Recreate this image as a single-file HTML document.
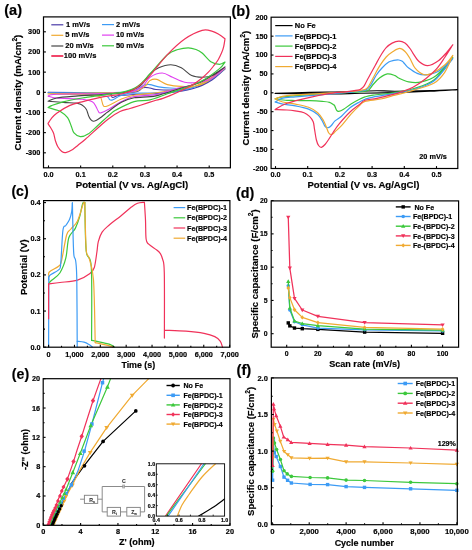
<!DOCTYPE html><html><head><meta charset="utf-8"><style>html,body{margin:0;padding:0;background:#fff;}svg{display:block;will-change:transform;}text{font-family:"Liberation Sans", sans-serif;fill:#000;stroke:#000;stroke-width:0.18px;}</style></head><body>
<svg width="472" height="550" viewBox="0 0 472 550">
<text x="0" y="0" font-size="14" font-weight="bold" transform="translate(4.25,15.32) scale(1.04,1)">(a)</text>
<path d="M48.1,92.3 C56.08,92.37 81.67,92.73 96,92.7 C110.33,92.67 126.27,92.95 134.1,92.1 C141.93,91.25 140.35,88.28 143,87.6 C145.65,86.92 147.83,87.68 150,88 C152.17,88.32 151.83,89.17 156,89.5 C160.17,89.83 168.5,90.25 175,90 C181.5,89.75 188.83,89.67 195,88 C201.17,86.33 207,83.17 212,80 C217,76.83 222.83,70.83 225,69 C222.83,70.67 217,75.83 212,79 C207,82.17 201.17,85.83 195,88 C188.83,90.17 181.5,91.08 175,92 C168.5,92.92 164.93,92.95 156,93.5 C147.07,94.05 128.43,94.68 121.4,95.3 C114.37,95.92 115.38,96.88 113.8,97.2 C112.22,97.52 112.45,97.73 111.9,97.2 C111.35,96.67 112.48,94.67 110.5,94 C108.52,93.33 110.4,93.48 100,93.2 C89.6,92.92 56.75,92.45 48.1,92.3" fill="none" stroke="#4a3aa8" stroke-width="1.1" stroke-linejoin="round" stroke-linecap="round"/>
<path d="M48.1,92.8 C55.08,92.77 76.35,92.77 90,92.6 C103.65,92.43 120.95,93.05 130,91.8 C139.05,90.55 140.97,86.3 144.3,85.1 C147.63,83.9 147.6,84.3 150,84.6 C152.4,84.9 155.37,86.33 158.7,86.9 C162.03,87.47 164.78,87.82 170,88 C175.22,88.18 183.33,89.33 190,88 C196.67,86.67 204.17,83.25 210,80 C215.83,76.75 222.5,70.42 225,68.5 C222.83,70.08 217,74.92 212,78 C207,81.08 201.17,84.75 195,87 C188.83,89.25 181.5,90.53 175,91.5 C168.5,92.47 163.5,92.5 156,92.8 C148.5,93.1 135.07,93.07 130,93.3 C124.93,93.53 127.32,93.77 125.6,94.2 C123.88,94.63 121.4,95.2 119.7,95.9 C118,96.6 116.68,97.7 115.4,98.4 C114.12,99.1 112.98,99.9 112,100.1 C111.02,100.3 110.1,100.02 109.5,99.6 C108.9,99.18 109.15,98.2 108.4,97.6 C107.65,97 108.07,96.43 105,96 C101.93,95.57 95.83,95.28 90,95 C84.17,94.72 76.98,94.67 70,94.3 C63.02,93.93 51.75,93.05 48.1,92.8" fill="none" stroke="#3c9bf5" stroke-width="1.1" stroke-linejoin="round" stroke-linecap="round"/>
<path d="M48.1,93.9 C57.42,93.73 89.68,93.3 104,92.9 C118.32,92.5 127.17,92.65 134,91.5 C140.83,90.35 142.33,87.83 145,86 C147.67,84.17 148.02,81.6 150,80.5 C151.98,79.4 154,78.72 156.9,79.4 C159.8,80.08 163.33,83.43 167.4,84.6 C171.47,85.77 175.52,86.45 181.3,86.4 C187.08,86.35 194.82,87.32 202.1,84.3 C209.38,81.28 221.18,70.97 225,68.3 C222.83,69.75 217,74.05 212,77 C207,79.95 201.17,83.83 195,86 C188.83,88.17 181.5,88.88 175,90 C168.5,91.12 162.82,91.82 156,92.7 C149.18,93.58 139.87,94.23 134.1,95.3 C128.33,96.37 125.63,97.42 121.4,99.1 C117.17,100.78 111.67,104.23 108.7,105.4 C105.73,106.57 104.87,107.27 103.6,106.1 C102.33,104.93 101.95,100.05 101.1,98.4 C100.25,96.75 101.18,96.8 98.5,96.2 C95.82,95.6 93.4,95.18 85,94.8 C76.6,94.42 54.25,94.05 48.1,93.9" fill="none" stroke="#f0aa32" stroke-width="1.1" stroke-linejoin="round" stroke-linecap="round"/>
<path d="M48.1,96.1 C49.53,95.78 47.38,94.63 56.7,94.2 C66.02,93.77 91.78,93.87 104,93.5 C116.22,93.13 123.67,93.08 130,92 C136.33,90.92 138.67,89.45 142,87 C145.33,84.55 146.63,79.63 150,77.3 C153.37,74.97 158.43,73 162.2,73 C165.97,73 168.85,75.77 172.6,77.3 C176.35,78.83 180.65,81.33 184.7,82.2 C188.75,83.07 192.55,83.02 196.9,82.5 C201.25,81.98 206.12,81.55 210.8,79.1 C215.48,76.65 222.63,69.68 225,67.8 C222.83,69.17 217,73.3 212,76 C207,78.7 201.17,81.83 195,84 C188.83,86.17 181.5,87.23 175,89 C168.5,90.77 162.82,93.35 156,94.6 C149.18,95.85 139.87,95.33 134.1,96.5 C128.33,97.67 125.63,99.48 121.4,101.6 C117.17,103.72 112.2,107.3 108.7,109.2 C105.2,111.1 102.2,112.78 100.4,113 C98.6,113.22 98.62,111.52 97.9,110.5 C97.18,109.48 97.03,108.35 96.1,106.9 C95.17,105.45 94.63,103.07 92.3,101.8 C89.97,100.53 88.03,99.93 82.1,99.3 C76.17,98.67 62.37,98.53 56.7,98 C51.03,97.47 49.53,96.42 48.1,96.1" fill="none" stroke="#e040f0" stroke-width="1.1" stroke-linejoin="round" stroke-linecap="round"/>
<path d="M48.1,101.2 C49.53,100.67 52.08,98.85 56.7,98 C61.32,97.15 67.92,96.73 75.8,96.1 C83.68,95.47 95.97,94.82 104,94.2 C112.03,93.58 118,93.77 124,92.4 C130,91.03 135.67,89.08 140,86 C144.33,82.92 146.88,76.93 150,73.9 C153.12,70.87 155.23,69.32 158.7,67.8 C162.17,66.28 167.03,64.8 170.8,64.8 C174.57,64.8 177.82,66 181.3,67.8 C184.78,69.6 188.23,74.02 191.7,75.6 C195.17,77.18 198.63,77.3 202.1,77.3 C205.57,77.3 208.68,77.33 212.5,75.6 C216.32,73.87 222.92,68.35 225,66.9 C223.33,68 219.17,70.9 215,73.5 C210.83,76.1 205.83,80 200,82.5 C194.17,85 187.33,86.27 180,88.5 C172.67,90.73 163.65,94.35 156,95.9 C148.35,97.45 139.87,96.75 134.1,97.8 C128.33,98.85 125.42,100.13 121.4,102.2 C117.38,104.27 112.67,108.28 110,110.2 C107.33,112.12 107.02,112.43 105.4,113.7 C103.78,114.97 101.78,116.7 100.3,117.8 C98.82,118.9 97.67,119.72 96.5,120.3 C95.33,120.88 94.25,121.4 93.3,121.3 C92.35,121.2 91.53,120.5 90.8,119.7 C90.07,118.9 89.43,117.67 88.9,116.5 C88.37,115.33 88.02,113.87 87.6,112.7 C87.18,111.53 87.03,110.55 86.4,109.5 C85.77,108.45 84.87,107.3 83.8,106.4 C82.73,105.5 81.33,104.65 80,104.1 C78.67,103.55 78.62,103.38 75.8,103.1 C72.98,102.82 67.72,102.72 63.1,102.4 C58.48,102.08 50.6,101.4 48.1,101.2" fill="none" stroke="#454545" stroke-width="1.1" stroke-linejoin="round" stroke-linecap="round"/>
<path d="M48.1,107.5 C48.68,107.18 49.1,106.55 51.6,105.6 C54.1,104.65 58.02,103.07 63.1,101.8 C68.18,100.53 75.28,99.17 82.1,98 C88.92,96.83 97.02,95.83 104,94.8 C110.98,93.77 118.33,93.27 124,91.8 C129.67,90.33 133.67,88.98 138,86 C142.33,83.02 145.1,79.12 150,73.9 C154.9,68.68 162.73,58.77 167.4,54.7 C172.07,50.63 174.53,50.65 178,49.5 C181.47,48.35 185.2,47.8 188.2,47.8 C191.2,47.8 193.68,48.63 196,49.5 C198.32,50.37 199.63,50.97 202.1,53 C204.57,55.03 207.9,59.82 210.8,61.7 C213.7,63.58 217.13,64.25 219.5,64.3 C221.87,64.35 224.08,62.38 225,62 C224.08,63.1 223.32,65.47 219.5,68.6 C215.68,71.73 207.9,77.6 202.1,80.8 C196.3,84 190.48,85.63 184.7,87.8 C178.92,89.97 173.18,91.78 167.4,93.8 C161.62,95.82 155.55,98.6 150,99.9 C144.45,101.2 139.78,99.92 134.1,101.6 C128.42,103.28 119.78,107.97 115.9,110 C112.02,112.03 113.77,111.27 110.8,113.8 C107.83,116.33 101.9,121.82 98.1,125.2 C94.3,128.58 90.97,132.18 88,134.1 C85.03,136.02 82.63,136.9 80.3,136.7 C77.97,136.5 75.48,134.6 74,132.9 C72.52,131.2 72.47,129.05 71.4,126.5 C70.33,123.95 69.5,120.13 67.6,117.6 C65.7,115.07 62.23,112.67 60,111.3 C57.77,109.93 56.18,110.03 54.2,109.4 C52.22,108.77 49.12,107.82 48.1,107.5" fill="none" stroke="#3cc83c" stroke-width="1.2" stroke-linejoin="round" stroke-linecap="round"/>
<path d="M48,123.6 C48.55,122.77 49.85,120.33 51.3,118.6 C52.75,116.87 53.68,115.37 56.7,113.2 C59.72,111.03 65.17,107.5 69.4,105.6 C73.63,103.7 76.33,103.28 82.1,101.8 C87.87,100.32 97.45,98 104,96.7 C110.55,95.4 116.38,95.2 121.4,94 C126.42,92.8 130.28,91.62 134.1,89.5 C137.92,87.38 141.65,83.62 144.3,81.3 C146.95,78.98 146.15,80.03 150,75.6 C153.85,71.17 161.62,60.78 167.4,54.7 C173.18,48.62 178.92,43.15 184.7,39.1 C190.48,35.05 197.47,31.7 202.1,30.4 C206.73,29.1 209.6,30.57 212.5,31.3 C215.4,32.03 217.42,33.55 219.5,34.8 C221.58,36.05 224.08,38.13 225,38.8 C224.78,40.1 224.28,44.22 223.7,46.6 C223.12,48.98 222.42,50.92 221.5,53.1 C220.58,55.28 219.48,57.6 218.2,59.7 C216.92,61.8 215.43,63.62 213.8,65.7 C212.17,67.78 210.4,70.12 208.4,72.2 C206.4,74.28 204.17,76.28 201.8,78.2 C199.43,80.12 196.73,82.07 194.2,83.7 C191.67,85.33 188.97,86.73 186.6,88 C184.23,89.27 182.77,90.03 180,91.3 C177.23,92.57 172.97,94.38 170,95.6 C167.03,96.82 164.53,97.82 162.2,98.6 C159.87,99.38 159.62,99.2 156,100.3 C152.38,101.4 144.83,103.83 140.5,105.2 C136.17,106.57 133.42,107.45 130,108.5 C126.58,109.55 123.62,109.77 120,111.5 C116.38,113.23 111.95,116.18 108.3,118.9 C104.65,121.62 101.92,124.42 98.1,127.8 C94.28,131.18 88.75,136.3 85.4,139.2 C82.05,142.1 80.12,143.5 78,145.2 C75.88,146.9 74.75,148.17 72.7,149.4 C70.65,150.63 67.52,152.25 65.7,152.6 C63.88,152.95 63.08,152.43 61.8,151.5 C60.52,150.57 59.07,148.8 58,147 C56.93,145.2 56.15,143.03 55.4,140.7 C54.65,138.37 54.33,135.23 53.5,133 C52.67,130.77 51.32,128.87 50.4,127.3 C49.48,125.73 48.4,124.22 48,123.6" fill="none" stroke="#f0325a" stroke-width="1.2" stroke-linejoin="round" stroke-linecap="round"/>
<rect x="43.5" y="16.9" width="186.9" height="150.9" fill="none" stroke="#000" stroke-width="1.2"/>
<line x1="43.5" y1="31.79" x2="45.9" y2="31.79" stroke="#000" stroke-width="1.1"/>
<line x1="43.5" y1="51.96" x2="45.9" y2="51.96" stroke="#000" stroke-width="1.1"/>
<line x1="43.5" y1="72.13" x2="45.9" y2="72.13" stroke="#000" stroke-width="1.1"/>
<line x1="43.5" y1="92.3" x2="45.9" y2="92.3" stroke="#000" stroke-width="1.1"/>
<line x1="43.5" y1="112.47" x2="45.9" y2="112.47" stroke="#000" stroke-width="1.1"/>
<line x1="43.5" y1="132.64" x2="45.9" y2="132.64" stroke="#000" stroke-width="1.1"/>
<line x1="43.5" y1="152.81" x2="45.9" y2="152.81" stroke="#000" stroke-width="1.1"/>
<line x1="48.5" y1="167.8" x2="48.5" y2="165.4" stroke="#000" stroke-width="1.1"/>
<line x1="80.64" y1="167.8" x2="80.64" y2="165.4" stroke="#000" stroke-width="1.1"/>
<line x1="112.78" y1="167.8" x2="112.78" y2="165.4" stroke="#000" stroke-width="1.1"/>
<line x1="144.92" y1="167.8" x2="144.92" y2="165.4" stroke="#000" stroke-width="1.1"/>
<line x1="177.06" y1="167.8" x2="177.06" y2="165.4" stroke="#000" stroke-width="1.1"/>
<line x1="209.2" y1="167.8" x2="209.2" y2="165.4" stroke="#000" stroke-width="1.1"/>
<text x="40.3" y="34.19" font-size="7.3" text-anchor="end" font-weight="bold">300</text>
<text x="40.3" y="54.36" font-size="7.3" text-anchor="end" font-weight="bold">200</text>
<text x="40.3" y="74.53" font-size="7.3" text-anchor="end" font-weight="bold">100</text>
<text x="40.3" y="94.7" font-size="7.3" text-anchor="end" font-weight="bold">0</text>
<text x="40.3" y="114.87" font-size="7.3" text-anchor="end" font-weight="bold">-100</text>
<text x="40.3" y="135.04" font-size="7.3" text-anchor="end" font-weight="bold">-200</text>
<text x="40.3" y="155.21" font-size="7.3" text-anchor="end" font-weight="bold">-300</text>
<text x="48.5" y="176.9" font-size="7.3" text-anchor="middle" font-weight="bold">0.0</text>
<text x="80.64" y="176.9" font-size="7.3" text-anchor="middle" font-weight="bold">0.1</text>
<text x="112.78" y="176.9" font-size="7.3" text-anchor="middle" font-weight="bold">0.2</text>
<text x="144.92" y="176.9" font-size="7.3" text-anchor="middle" font-weight="bold">0.3</text>
<text x="177.06" y="176.9" font-size="7.3" text-anchor="middle" font-weight="bold">0.4</text>
<text x="209.2" y="176.9" font-size="7.3" text-anchor="middle" font-weight="bold">0.5</text>
<text x="75.72" y="187.9" font-size="9.63" text-anchor="start" font-weight="bold">Potential (V vs. Ag/AgCl)</text>
<text x="0" y="0" font-size="9.62" text-anchor="middle" font-weight="bold" transform="translate(20.9,92.61) rotate(-90)">Current density (mA/cm<tspan font-size="6.7" dy="-4.2">2</tspan><tspan dy="4.2">)</tspan></text>
<line x1="51.3" y1="24.8" x2="63.3" y2="24.8" stroke="#4a3aa8" stroke-width="1.2"/>
<text x="65.9" y="26.7" font-size="7.5" text-anchor="start" font-weight="bold">1 mV/s</text>
<line x1="102" y1="24.6" x2="114" y2="24.6" stroke="#3c9bf5" stroke-width="1.2"/>
<text x="115.9" y="26.5" font-size="7.5" text-anchor="start" font-weight="bold">2 mV/s</text>
<line x1="51.3" y1="35.3" x2="63.3" y2="35.3" stroke="#f0aa32" stroke-width="1.2"/>
<text x="65.3" y="37.2" font-size="7.5" text-anchor="start" font-weight="bold">5 mV/s</text>
<line x1="102" y1="35.1" x2="114" y2="35.1" stroke="#e040f0" stroke-width="1.2"/>
<text x="115.9" y="37" font-size="7.5" text-anchor="start" font-weight="bold">10 mV/s</text>
<line x1="51.3" y1="46" x2="63.3" y2="46" stroke="#454545" stroke-width="1.2"/>
<text x="65.3" y="47.9" font-size="7.5" text-anchor="start" font-weight="bold">20 mV/s</text>
<line x1="102" y1="45.8" x2="114" y2="45.8" stroke="#3cc83c" stroke-width="1.2"/>
<text x="115.9" y="47.7" font-size="7.5" text-anchor="start" font-weight="bold">50 mV/s</text>
<line x1="51.3" y1="56" x2="63.3" y2="56" stroke="#f0325a" stroke-width="1.8"/>
<text x="63.8" y="57.9" font-size="7.5" text-anchor="start" font-weight="bold">100 mV/s</text>
<text x="0" y="0" font-size="14" font-weight="bold" transform="translate(231.4,16.22) scale(1.04,1)">(b)</text>
<path d="M275.1,93.3 C280.92,93.15 300.02,92.62 310,92.4 C319.98,92.18 326.67,92.18 335,92 C343.33,91.82 353,91.52 360,91.3 C367,91.08 371.17,90.72 377,90.7 C382.83,90.68 386.17,91.22 395,91.2 C403.83,91.18 419.57,90.87 430,90.6 C440.43,90.33 453,89.77 457.6,89.6 C453,89.88 440.43,90.8 430,91.3 C419.57,91.8 406.67,92.27 395,92.6 C383.33,92.93 370,93.08 360,93.3 C350,93.52 343.33,93.83 335,93.9 C326.67,93.97 319.98,93.77 310,93.7 C300.02,93.63 280.92,93.53 275.1,93.5" fill="none" stroke="#000" stroke-width="1.1" stroke-linejoin="round" stroke-linecap="round"/>
<path d="M275.1,99 C276.37,98.65 276.88,97.62 282.7,96.9 C288.52,96.18 301.28,95.35 310,94.7 C318.72,94.05 328.33,93.38 335,93 C341.67,92.62 345.83,92.6 350,92.4 C354.17,92.2 357,92.1 360,91.8 C363,91.5 365.82,91.82 368,90.6 C370.18,89.38 371.18,86.58 373.1,84.5 C375.02,82.42 377.13,79.87 379.5,78.1 C381.87,76.33 384.72,74.32 387.3,73.9 C389.88,73.48 393.2,74.97 395,75.6 C396.8,76.23 395.82,76.65 398.1,77.7 C400.38,78.75 404.82,81.2 408.7,81.9 C412.58,82.6 416.8,82.97 421.4,81.9 C426,80.83 431.07,79.57 436.3,75.5 C441.53,71.43 450.05,60.5 452.8,57.5 C449.7,61.22 440.83,74.58 434.2,79.8 C427.57,85.02 419.53,86.67 413,88.8 C406.47,90.93 401.65,91.53 395,92.6 C388.35,93.67 378.1,94.48 373.1,95.2 C368.1,95.92 367.27,96.23 365,96.9 C362.73,97.57 361.83,98.02 359.5,99.2 C357.17,100.38 353.65,102.32 351,104 C348.35,105.68 345.63,108.07 343.6,109.3 C341.57,110.53 339.95,111.22 338.8,111.4 C337.65,111.58 337.4,111.37 336.7,110.4 C336,109.43 335.18,106.58 334.6,105.6 C334.02,104.62 334.05,105.05 333.2,104.5 C332.35,103.95 331.32,102.82 329.5,102.3 C327.68,101.78 325.55,101.67 322.3,101.4 C319.05,101.13 314.55,100.85 310,100.7 C305.45,100.55 298.83,100.57 295,100.5 C291.17,100.43 290.32,100.55 287,100.3 C283.68,100.05 277.08,99.22 275.1,99" fill="none" stroke="#3cc83c" stroke-width="1.2" stroke-linejoin="round" stroke-linecap="round"/>
<path d="M275.1,102 C276.37,101.35 279.32,98.95 282.7,98.1 C286.08,97.25 290.85,97.32 295.4,96.9 C299.95,96.48 303.4,96.17 310,95.6 C316.6,95.03 328.33,94.07 335,93.5 C341.67,92.93 345.83,92.58 350,92.2 C354.17,91.82 357.2,91.67 360,91.2 C362.8,90.73 365.05,90.35 366.8,89.4 C368.55,88.45 368.9,87.9 370.5,85.5 C372.1,83.1 374.48,77.92 376.4,75 C378.32,72.08 379.95,70.15 382,68 C384.05,65.85 386.73,63.37 388.7,62.1 C390.67,60.83 392.1,60.75 393.8,60.4 C395.5,60.05 397.48,59.85 398.9,60 C400.32,60.15 401.28,60.6 402.3,61.3 C403.32,62 403.93,63.07 405,64.2 C406.07,65.33 406.67,66.57 408.7,68.1 C410.73,69.63 414.37,72.27 417.2,73.4 C420.03,74.53 422.17,75.25 425.7,74.9 C429.23,74.55 433.88,74.02 438.4,71.3 C442.92,68.58 450.4,60.72 452.8,58.6 C449.7,62.3 440.83,75.62 434.2,80.8 C427.57,85.98 419.53,87.62 413,89.7 C406.47,91.78 401.65,92.07 395,93.3 C388.35,94.53 378.1,96.12 373.1,97.1 C368.1,98.08 367.27,98.4 365,99.2 C362.73,100 362,100.48 359.5,101.9 C357,103.32 353,105.32 350,107.7 C347,110.08 344,114 341.5,116.2 C339,118.4 336.68,119.35 335,120.9 C333.32,122.45 332.53,124.37 331.4,125.5 C330.27,126.63 329.27,127.55 328.2,127.7 C327.13,127.85 325.98,127.53 325,126.4 C324.02,125.27 323.52,122.88 322.3,120.9 C321.08,118.92 319.98,116.47 317.7,114.5 C315.42,112.53 312.32,110.55 308.6,109.1 C304.88,107.65 299.72,106.63 295.4,105.8 C291.08,104.97 286.08,104.73 282.7,104.1 C279.32,103.47 276.37,102.35 275.1,102" fill="none" stroke="#3c9bf5" stroke-width="1.2" stroke-linejoin="round" stroke-linecap="round"/>
<path d="M275.1,98.6 C277.08,98.1 281.18,96.33 287,95.6 C292.82,94.87 302,94.7 310,94.2 C318,93.7 328.33,93.05 335,92.6 C341.67,92.15 345.77,91.88 350,91.5 C354.23,91.12 357.82,90.68 360.4,90.3 C362.98,89.92 364.15,89.83 365.5,89.2 C366.85,88.57 367.5,87.87 368.5,86.5 C369.5,85.13 370.47,82.92 371.5,81 C372.53,79.08 373.38,77.43 374.7,75 C376.02,72.57 377.48,69.4 379.4,66.4 C381.32,63.4 383.93,59.48 386.2,57 C388.47,54.52 390.75,52.93 393,51.5 C395.25,50.07 397.7,48.4 399.7,48.4 C401.7,48.4 403.28,49.82 405,51.5 C406.72,53.18 408.32,55.73 410,58.5 C411.68,61.27 412.83,65.43 415.1,68.1 C417.37,70.77 420.78,73.62 423.6,74.5 C426.42,75.38 428.48,74.98 432,73.4 C435.52,71.82 441.23,68 444.7,65 C448.17,62 451.45,57 452.8,55.4 C451.45,58.23 447.8,67.8 444.7,72.4 C441.6,77 439.48,80 434.2,83 C428.92,86 419.53,88.37 413,90.4 C406.47,92.43 400.38,93.77 395,95.2 C389.62,96.63 385.7,97.97 380.7,99 C375.7,100.03 368.53,100.3 365,101.4 C361.47,102.5 361.83,103.48 359.5,105.6 C357.17,107.72 354,110.75 351,114.1 C348,117.45 344.17,122.75 341.5,125.7 C338.83,128.65 336.38,130.48 335,131.8 C333.62,133.12 333.88,133.15 333.2,133.6 C332.52,134.05 331.67,134.65 330.9,134.5 C330.13,134.35 329.35,133.9 328.6,132.7 C327.85,131.5 327.3,129.42 326.4,127.3 C325.5,125.18 324.65,122.43 323.2,120 C321.75,117.57 320.13,114.82 317.7,112.7 C315.27,110.58 312.32,108.73 308.6,107.3 C304.88,105.87 299.72,104.98 295.4,104.1 C291.08,103.22 286.08,102.92 282.7,102 C279.32,101.08 276.37,99.17 275.1,98.6" fill="none" stroke="#f0aa32" stroke-width="1.2" stroke-linejoin="round" stroke-linecap="round"/>
<path d="M275.1,109.6 C277.08,108.53 281.18,105.25 287,103.2 C292.82,101.15 302,99.05 310,97.3 C318,95.55 329.17,93.62 335,92.7 C340.83,91.78 341.22,92.23 345,91.8 C348.78,91.37 355.02,90.6 357.7,90.1 C360.38,89.6 360.12,89.37 361.1,88.8 C362.08,88.23 362.75,87.83 363.6,86.7 C364.45,85.57 365.17,83.92 366.2,82 C367.23,80.08 368.3,77.95 369.8,75.2 C371.3,72.45 373.45,68.67 375.2,65.5 C376.95,62.33 378.47,59.17 380.3,56.2 C382.13,53.23 384.23,49.88 386.2,47.7 C388.17,45.52 389.98,44.2 392.1,43.1 C394.22,42 396.75,41.12 398.9,41.1 C401.05,41.08 403.15,41.77 405,43 C406.85,44.23 408.67,46.78 410,48.5 C411.33,50.22 411.45,51.08 413,53.3 C414.55,55.52 416.83,59.75 419.3,61.8 C421.77,63.85 424.62,65.78 427.8,65.6 C430.98,65.42 435.22,62.93 438.4,60.7 C441.58,58.47 444.5,54.85 446.9,52.2 C449.3,49.55 451.82,46.03 452.8,44.8 C451.45,46.92 447.45,53.43 444.7,57.5 C441.95,61.57 439.47,65.67 436.3,69.2 C433.13,72.73 429.58,75.7 425.7,78.7 C421.82,81.7 416.88,85.08 413,87.2 C409.12,89.32 405.4,90.28 402.4,91.4 C399.4,92.52 399.25,92.75 395,93.9 C390.75,95.05 381.9,97.23 376.9,98.3 C371.9,99.37 367.9,99.27 365,100.3 C362.1,101.33 362,102.55 359.5,104.5 C357,106.45 353.35,108.82 350,112 C346.65,115.18 342.05,120.45 339.4,123.6 C336.75,126.75 335.75,128.47 334.1,130.9 C332.45,133.33 331.02,135.93 329.5,138.2 C327.98,140.47 326.35,142.98 325,144.5 C323.65,146.02 322.47,147.13 321.4,147.3 C320.33,147.47 319.43,146.72 318.6,145.5 C317.77,144.28 317.08,142.73 316.4,140 C315.72,137.27 315.03,132.13 314.5,129.1 C313.97,126.07 314.03,123.92 313.2,121.8 C312.37,119.68 311.02,117.92 309.5,116.4 C307.98,114.88 306.52,113.62 304.1,112.7 C301.68,111.78 297.85,111.35 295,110.9 C292.15,110.45 290.32,110.22 287,110 C283.68,109.78 277.08,109.67 275.1,109.6" fill="none" stroke="#f0325a" stroke-width="1.2" stroke-linejoin="round" stroke-linecap="round"/>
<rect x="271.1" y="17.2" width="186.7" height="151.3" fill="none" stroke="#000" stroke-width="1.2"/>
<line x1="271.1" y1="36.17" x2="273.5" y2="36.17" stroke="#000" stroke-width="1.1"/>
<line x1="271.1" y1="55.05" x2="273.5" y2="55.05" stroke="#000" stroke-width="1.1"/>
<line x1="271.1" y1="73.92" x2="273.5" y2="73.92" stroke="#000" stroke-width="1.1"/>
<line x1="271.1" y1="92.8" x2="273.5" y2="92.8" stroke="#000" stroke-width="1.1"/>
<line x1="271.1" y1="111.67" x2="273.5" y2="111.67" stroke="#000" stroke-width="1.1"/>
<line x1="271.1" y1="130.55" x2="273.5" y2="130.55" stroke="#000" stroke-width="1.1"/>
<line x1="271.1" y1="149.43" x2="273.5" y2="149.43" stroke="#000" stroke-width="1.1"/>
<text x="267.6" y="19.7" font-size="7.3" text-anchor="end" font-weight="bold">200</text>
<text x="267.6" y="38.57" font-size="7.3" text-anchor="end" font-weight="bold">150</text>
<text x="267.6" y="57.45" font-size="7.3" text-anchor="end" font-weight="bold">100</text>
<text x="267.6" y="76.33" font-size="7.3" text-anchor="end" font-weight="bold">50</text>
<text x="267.6" y="95.2" font-size="7.3" text-anchor="end" font-weight="bold">0</text>
<text x="267.6" y="114.08" font-size="7.3" text-anchor="end" font-weight="bold">-50</text>
<text x="267.6" y="132.95" font-size="7.3" text-anchor="end" font-weight="bold">-100</text>
<text x="267.6" y="151.83" font-size="7.3" text-anchor="end" font-weight="bold">-150</text>
<text x="267.6" y="170.7" font-size="7.3" text-anchor="end" font-weight="bold">-200</text>
<line x1="275.5" y1="168.5" x2="275.5" y2="166.1" stroke="#000" stroke-width="1.1"/>
<line x1="307.7" y1="168.5" x2="307.7" y2="166.1" stroke="#000" stroke-width="1.1"/>
<line x1="339.9" y1="168.5" x2="339.9" y2="166.1" stroke="#000" stroke-width="1.1"/>
<line x1="372.1" y1="168.5" x2="372.1" y2="166.1" stroke="#000" stroke-width="1.1"/>
<line x1="404.3" y1="168.5" x2="404.3" y2="166.1" stroke="#000" stroke-width="1.1"/>
<line x1="436.5" y1="168.5" x2="436.5" y2="166.1" stroke="#000" stroke-width="1.1"/>
<text x="275.5" y="177.2" font-size="7.3" text-anchor="middle" font-weight="bold">0.0</text>
<text x="307.7" y="177.2" font-size="7.3" text-anchor="middle" font-weight="bold">0.1</text>
<text x="339.9" y="177.2" font-size="7.3" text-anchor="middle" font-weight="bold">0.2</text>
<text x="372.1" y="177.2" font-size="7.3" text-anchor="middle" font-weight="bold">0.3</text>
<text x="404.3" y="177.2" font-size="7.3" text-anchor="middle" font-weight="bold">0.4</text>
<text x="436.5" y="177.2" font-size="7.3" text-anchor="middle" font-weight="bold">0.5</text>
<text x="307.46" y="188.3" font-size="9.59" text-anchor="start" font-weight="bold">Potential (V vs. Ag/AgCl)</text>
<text x="0" y="0" font-size="9.51" text-anchor="middle" font-weight="bold" transform="translate(249,88.16) rotate(-90)">Current density (mA/cm<tspan font-size="6.7" dy="-4.2">2</tspan><tspan dy="4.2">)</tspan></text>
<line x1="275.2" y1="25.6" x2="292.6" y2="25.6" stroke="#000" stroke-width="1.2"/>
<text x="294.8" y="28.3" font-size="7.5" text-anchor="start" font-weight="bold">No Fe</text>
<line x1="275.2" y1="35.9" x2="292.6" y2="35.9" stroke="#3c9bf5" stroke-width="1.2"/>
<text x="294.8" y="38.6" font-size="7.5" text-anchor="start" font-weight="bold">Fe(BPDC)-1</text>
<line x1="275.2" y1="46.1" x2="292.6" y2="46.1" stroke="#3cc83c" stroke-width="1.2"/>
<text x="294.8" y="48.8" font-size="7.5" text-anchor="start" font-weight="bold">Fe(BPDC)-2</text>
<line x1="275.2" y1="56.4" x2="292.6" y2="56.4" stroke="#f0325a" stroke-width="1.2"/>
<text x="294.8" y="59.1" font-size="7.5" text-anchor="start" font-weight="bold">Fe(BPDC)-3</text>
<line x1="275.2" y1="66.6" x2="292.6" y2="66.6" stroke="#f0aa32" stroke-width="1.2"/>
<text x="294.8" y="69.3" font-size="7.5" text-anchor="start" font-weight="bold">Fe(BPDC)-4</text>
<text x="419.3" y="159.1" font-size="7.3" text-anchor="start" font-weight="bold">20 mV/s</text>
<text x="0" y="0" font-size="14" font-weight="bold" transform="translate(11.41,195.92) scale(1.01,1)">(c)</text>
<path d="M48.6,347 L48.8,276" fill="none" stroke="#3c9bf5" stroke-width="1.2" stroke-linejoin="round" stroke-linecap="round"/>
<path d="M48.6,318.8 L48.6,283.8" fill="none" stroke="#f0325a" stroke-width="1.2" stroke-linejoin="round" stroke-linecap="round"/>
<path d="M48.6,283.8 C50.5,283.58 55.18,283.1 60,282.5 C64.82,281.9 72.5,281.68 77.5,280.2 C82.5,278.72 87.2,275.72 90,273.6 C92.8,271.48 93.15,271.1 94.3,267.5 C95.45,263.9 96.23,256.32 96.9,252 C97.57,247.68 97.43,244.92 98.3,241.6 C99.17,238.28 100.32,234.83 102.1,232.1 C103.88,229.37 105.83,227.93 109,225.2 C112.17,222.47 117.37,218.72 121.1,215.7 C124.83,212.68 128.67,209.17 131.4,207.1 C134.13,205.03 135.33,204.1 137.5,203.3 C139.67,202.5 143.25,202.47 144.4,202.3" fill="none" stroke="#f0325a" stroke-width="1.2" stroke-linejoin="round" stroke-linecap="round"/>
<path d="M144.4,202.3 C144.58,205.25 145.22,213.88 145.5,220 C145.78,226.12 145.57,234.97 146.1,239 C146.63,243.03 146.53,242.03 148.7,244.2 C150.87,246.37 156.8,249.55 159.1,252 C161.4,254.45 161.63,255.45 162.5,258.9 C163.37,262.35 163.98,259.5 164.3,272.7 C164.62,285.9 164.38,327.2 164.4,338.1" fill="none" stroke="#f0325a" stroke-width="1.2" stroke-linejoin="round" stroke-linecap="round"/>
<path d="M165.3,330.3 C168.75,330.45 179.55,330.68 186,331.2 C192.45,331.72 199.2,332.5 204,333.4 C208.8,334.3 212.1,335.32 214.8,336.6 C217.5,337.88 218.9,339.3 220.2,341.1 C221.5,342.9 222.2,346.35 222.6,347.4" fill="none" stroke="#f0325a" stroke-width="1.2" stroke-linejoin="round" stroke-linecap="round"/>
<path d="M49.5,282.4 C49.92,282 50.25,281.62 52,280 C53.75,278.38 57.7,276.33 60,272.7 C62.3,269.07 64.33,264.02 65.8,258.2 C67.27,252.38 67.22,242.77 68.8,237.8 C70.38,232.83 73.48,231.92 75.3,228.4 C77.12,224.88 78.48,220.83 79.7,216.7 C80.92,212.57 81.75,205.95 82.6,203.6 C83.45,201.25 84.43,202.77 84.8,202.6" fill="none" stroke="#3cc83c" stroke-width="1.2" stroke-linejoin="round" stroke-linecap="round"/>
<path d="M84.8,202.6 C85.03,210.67 85.12,240.27 86.2,251 C87.28,261.73 90.4,252.1 91.3,267 C92.2,281.9 91.55,328.17 91.6,340.4" fill="none" stroke="#3cc83c" stroke-width="1.2" stroke-linejoin="round" stroke-linecap="round"/>
<path d="M91.6,340.4 C92.13,340.48 92.03,340.32 94.8,340.9 C97.57,341.48 105.45,343.2 108.2,343.9 C110.95,344.6 110.25,344.58 111.3,345.1 C112.35,345.62 113.97,346.68 114.5,347" fill="none" stroke="#3cc83c" stroke-width="1.2" stroke-linejoin="round" stroke-linecap="round"/>
<path d="M49.1,276.5 C49.13,275.75 47.72,273.72 49.3,272 C50.88,270.28 56.57,268.03 58.6,266.2 C60.63,264.37 60.17,266.2 61.5,261 C62.83,255.8 65.03,240.33 66.6,235 C68.17,229.67 69.08,231.33 70.9,229 C72.72,226.67 75.43,225.23 77.5,221 C79.57,216.77 82.08,206.62 83.3,203.6 C84.52,200.58 84.55,203.02 84.8,202.9" fill="none" stroke="#f0aa32" stroke-width="1.2" stroke-linejoin="round" stroke-linecap="round"/>
<path d="M84.8,202.9 C85.03,210.67 85.48,240.28 86.2,249.5 C86.92,258.72 87.88,253.12 89.1,258.2 C90.32,263.28 92.48,265.93 93.5,280 C94.52,294.07 94.92,332.17 95.2,342.6" fill="none" stroke="#f0aa32" stroke-width="1.2" stroke-linejoin="round" stroke-linecap="round"/>
<path d="M95.2,342.6 C97.57,343.13 106.5,345.07 109.4,345.8 C112.3,346.53 112.07,346.8 112.6,347" fill="none" stroke="#f0aa32" stroke-width="1.2" stroke-linejoin="round" stroke-linecap="round"/>
<path d="M48.8,280 C48.92,279.27 47.87,277.3 49.5,275.6 C51.13,273.9 56.73,271.73 58.6,269.8 C60.47,267.87 59.98,270.55 60.7,264 C61.42,257.45 62.05,236.92 62.9,230.5 C63.75,224.08 64.7,227.32 65.8,225.5 C66.9,223.68 68.52,221.92 69.5,219.6 C70.48,217.28 71.22,214.38 71.7,211.6 C72.18,208.82 72.28,204.35 72.4,202.9" fill="none" stroke="#3c9bf5" stroke-width="1.2" stroke-linejoin="round" stroke-linecap="round"/>
<path d="M72.4,202.9 C72.52,208.48 72.85,227.67 73.1,236.4 C73.35,245.13 73.47,251.2 73.9,255.3 C74.33,259.4 75.22,256.88 75.7,261 C76.18,265.12 76.55,265.67 76.8,280 C77.05,294.33 77.13,335.83 77.2,347" fill="none" stroke="#3c9bf5" stroke-width="1.2" stroke-linejoin="round" stroke-linecap="round"/>
<path d="M77.2,341.3 C78.33,341.45 82.03,341.67 84,342.2 C85.97,342.73 87.62,343.7 89,344.5 C90.38,345.3 91.75,346.58 92.3,347" fill="none" stroke="#3c9bf5" stroke-width="1.2" stroke-linejoin="round" stroke-linecap="round"/>
<rect x="43.6" y="200.6" width="186.3" height="146.6" fill="none" stroke="#000" stroke-width="1.2"/>
<line x1="43.6" y1="347.2" x2="46" y2="347.2" stroke="#000" stroke-width="1.1"/>
<line x1="43.6" y1="311.05" x2="46" y2="311.05" stroke="#000" stroke-width="1.1"/>
<line x1="43.6" y1="274.9" x2="46" y2="274.9" stroke="#000" stroke-width="1.1"/>
<line x1="43.6" y1="238.75" x2="46" y2="238.75" stroke="#000" stroke-width="1.1"/>
<line x1="43.6" y1="202.6" x2="46" y2="202.6" stroke="#000" stroke-width="1.1"/>
<line x1="43.6" y1="329.12" x2="45" y2="329.12" stroke="#000" stroke-width="1.1"/>
<line x1="43.6" y1="292.97" x2="45" y2="292.97" stroke="#000" stroke-width="1.1"/>
<line x1="43.6" y1="256.82" x2="45" y2="256.82" stroke="#000" stroke-width="1.1"/>
<line x1="43.6" y1="220.68" x2="45" y2="220.68" stroke="#000" stroke-width="1.1"/>
<text x="40.6" y="349.7" font-size="7.3" text-anchor="end" font-weight="bold">0.0</text>
<text x="40.6" y="313.55" font-size="7.3" text-anchor="end" font-weight="bold">0.1</text>
<text x="40.6" y="277.4" font-size="7.3" text-anchor="end" font-weight="bold">0.2</text>
<text x="40.6" y="241.25" font-size="7.3" text-anchor="end" font-weight="bold">0.3</text>
<text x="40.6" y="205.1" font-size="7.3" text-anchor="end" font-weight="bold">0.4</text>
<line x1="48.6" y1="347.2" x2="48.6" y2="344.8" stroke="#000" stroke-width="1.1"/>
<line x1="74.46" y1="347.2" x2="74.46" y2="344.8" stroke="#000" stroke-width="1.1"/>
<line x1="100.32" y1="347.2" x2="100.32" y2="344.8" stroke="#000" stroke-width="1.1"/>
<line x1="126.18" y1="347.2" x2="126.18" y2="344.8" stroke="#000" stroke-width="1.1"/>
<line x1="152.04" y1="347.2" x2="152.04" y2="344.8" stroke="#000" stroke-width="1.1"/>
<line x1="177.9" y1="347.2" x2="177.9" y2="344.8" stroke="#000" stroke-width="1.1"/>
<line x1="203.76" y1="347.2" x2="203.76" y2="344.8" stroke="#000" stroke-width="1.1"/>
<line x1="229.62" y1="347.2" x2="229.62" y2="344.8" stroke="#000" stroke-width="1.1"/>
<line x1="61.53" y1="347.2" x2="61.53" y2="345.8" stroke="#000" stroke-width="1.1"/>
<line x1="87.39" y1="347.2" x2="87.39" y2="345.8" stroke="#000" stroke-width="1.1"/>
<line x1="113.25" y1="347.2" x2="113.25" y2="345.8" stroke="#000" stroke-width="1.1"/>
<line x1="139.11" y1="347.2" x2="139.11" y2="345.8" stroke="#000" stroke-width="1.1"/>
<line x1="164.97" y1="347.2" x2="164.97" y2="345.8" stroke="#000" stroke-width="1.1"/>
<line x1="190.83" y1="347.2" x2="190.83" y2="345.8" stroke="#000" stroke-width="1.1"/>
<line x1="216.69" y1="347.2" x2="216.69" y2="345.8" stroke="#000" stroke-width="1.1"/>
<text x="48.6" y="356.6" font-size="7.3" text-anchor="middle" font-weight="bold">0</text>
<text x="74.46" y="356.6" font-size="7.3" text-anchor="middle" font-weight="bold">1,000</text>
<text x="100.32" y="356.6" font-size="7.3" text-anchor="middle" font-weight="bold">2,000</text>
<text x="126.18" y="356.6" font-size="7.3" text-anchor="middle" font-weight="bold">3,000</text>
<text x="152.04" y="356.6" font-size="7.3" text-anchor="middle" font-weight="bold">4,000</text>
<text x="177.9" y="356.6" font-size="7.3" text-anchor="middle" font-weight="bold">5,000</text>
<text x="203.76" y="356.6" font-size="7.3" text-anchor="middle" font-weight="bold">6,000</text>
<text x="229.62" y="356.6" font-size="7.3" text-anchor="middle" font-weight="bold">7,000</text>
<text x="121.4" y="368.2" font-size="8.87" text-anchor="start" font-weight="bold">Time (s)</text>
<text x="0" y="0" font-size="9.55" text-anchor="middle" font-weight="bold" transform="translate(26.8,267.28) rotate(-90)">Potential (V)</text>
<line x1="173.6" y1="207.6" x2="185.2" y2="207.6" stroke="#3c9bf5" stroke-width="1.2"/>
<text x="187.1" y="210.2" font-size="7.2" text-anchor="start" font-weight="bold">Fe(BPDC)-1</text>
<line x1="173.6" y1="217.8" x2="185.2" y2="217.8" stroke="#3cc83c" stroke-width="1.2"/>
<text x="187.1" y="220.4" font-size="7.2" text-anchor="start" font-weight="bold">Fe(BPDC)-2</text>
<line x1="173.6" y1="228" x2="185.2" y2="228" stroke="#f0325a" stroke-width="1.2"/>
<text x="187.1" y="230.6" font-size="7.2" text-anchor="start" font-weight="bold">Fe(BPDC)-3</text>
<line x1="173.6" y1="238.2" x2="185.2" y2="238.2" stroke="#f0aa32" stroke-width="1.2"/>
<text x="187.1" y="240.8" font-size="7.2" text-anchor="start" font-weight="bold">Fe(BPDC)-4</text>
<text x="0" y="0" font-size="14" font-weight="bold" transform="translate(235.93,197.62) scale(1.02,1)">(d)</text>
<path d="M288.26,322.92 L289.82,325.85 L294.5,328.04 L302.29,328.71 L317.88,329.37 L364.65,332.1 L442.6,333.3" fill="none" stroke="#000" stroke-width="1.25" stroke-linejoin="round" stroke-linecap="round"/>
<rect x="286.56" y="321.22" width="3.4" height="3.4" fill="#000"/>
<rect x="288.12" y="324.15" width="3.4" height="3.4" fill="#000"/>
<rect x="292.8" y="326.34" width="3.4" height="3.4" fill="#000"/>
<rect x="300.59" y="327.01" width="3.4" height="3.4" fill="#000"/>
<rect x="316.18" y="327.67" width="3.4" height="3.4" fill="#000"/>
<rect x="362.95" y="330.4" width="3.4" height="3.4" fill="#000"/>
<rect x="440.9" y="331.6" width="3.4" height="3.4" fill="#000"/>
<path d="M288.26,285.78 L289.82,310.01 L294.5,321.72 L302.29,324.85 L317.88,328.04 L364.65,329.77 L442.6,330.9" fill="none" stroke="#3c9bf5" stroke-width="1.25" stroke-linejoin="round" stroke-linecap="round"/>
<circle cx="288.26" cy="285.78" r="1.78" fill="#3c9bf5"/>
<circle cx="289.82" cy="310.01" r="1.78" fill="#3c9bf5"/>
<circle cx="294.5" cy="321.72" r="1.78" fill="#3c9bf5"/>
<circle cx="302.29" cy="324.85" r="1.78" fill="#3c9bf5"/>
<circle cx="317.88" cy="328.04" r="1.78" fill="#3c9bf5"/>
<circle cx="364.65" cy="329.77" r="1.78" fill="#3c9bf5"/>
<circle cx="442.6" cy="330.9" r="1.78" fill="#3c9bf5"/>
<path d="M288.26,281.39 L289.82,308.08 L294.5,321.06 L302.29,323.52 L317.88,325.71 L364.65,329.04 L442.6,330.17" fill="none" stroke="#3cc83c" stroke-width="1.25" stroke-linejoin="round" stroke-linecap="round"/>
<path d="M288.26,279.27 L290.38,282.92 L286.13,282.92 Z" fill="#3cc83c"/>
<path d="M289.82,305.95 L291.94,309.61 L287.69,309.61 Z" fill="#3cc83c"/>
<path d="M294.5,318.93 L296.62,322.59 L292.37,322.59 Z" fill="#3cc83c"/>
<path d="M302.29,321.39 L304.41,325.05 L300.16,325.05 Z" fill="#3cc83c"/>
<path d="M317.88,323.59 L320,327.24 L315.75,327.24 Z" fill="#3cc83c"/>
<path d="M364.65,326.92 L366.77,330.57 L362.52,330.57 Z" fill="#3cc83c"/>
<path d="M442.6,328.05 L444.73,331.7 L440.48,331.7 Z" fill="#3cc83c"/>
<path d="M288.26,217.24 L289.82,268.15 L294.5,298.43 L302.29,310.01 L317.88,316.4 L364.65,322.52 L442.6,324.92" fill="none" stroke="#f0325a" stroke-width="1.25" stroke-linejoin="round" stroke-linecap="round"/>
<path d="M288.26,219.36 L290.38,215.71 L286.13,215.71 Z" fill="#f0325a"/>
<path d="M289.82,270.27 L291.94,266.62 L287.69,266.62 Z" fill="#f0325a"/>
<path d="M294.5,300.55 L296.62,296.9 L292.37,296.9 Z" fill="#f0325a"/>
<path d="M302.29,312.13 L304.41,308.48 L300.16,308.48 Z" fill="#f0325a"/>
<path d="M317.88,318.52 L320,314.87 L315.75,314.87 Z" fill="#f0325a"/>
<path d="M364.65,324.64 L366.77,320.99 L362.52,320.99 Z" fill="#f0325a"/>
<path d="M442.6,327.04 L444.73,323.39 L440.48,323.39 Z" fill="#f0325a"/>
<path d="M288.26,287.91 L289.82,297.63 L294.5,309.74 L302.29,317.4 L317.88,322.59 L364.65,327.38 L442.6,329.24" fill="none" stroke="#f0aa32" stroke-width="1.25" stroke-linejoin="round" stroke-linecap="round"/>
<path d="M288.26,285.7 L290.13,287.91 L288.26,290.12 L286.39,287.91 Z" fill="#f0aa32"/>
<path d="M289.82,295.42 L291.69,297.63 L289.82,299.84 L287.95,297.63 Z" fill="#f0aa32"/>
<path d="M294.5,307.53 L296.37,309.74 L294.5,311.95 L292.62,309.74 Z" fill="#f0aa32"/>
<path d="M302.29,315.19 L304.16,317.4 L302.29,319.61 L300.42,317.4 Z" fill="#f0aa32"/>
<path d="M317.88,320.38 L319.75,322.59 L317.88,324.8 L316.01,322.59 Z" fill="#f0aa32"/>
<path d="M364.65,325.17 L366.52,327.38 L364.65,329.59 L362.78,327.38 Z" fill="#f0aa32"/>
<path d="M442.6,327.03 L444.47,329.24 L442.6,331.45 L440.73,329.24 Z" fill="#f0aa32"/>
<rect x="271.2" y="200.9" width="187.4" height="146.3" fill="none" stroke="#000" stroke-width="1.2"/>
<line x1="271.2" y1="333.7" x2="273.6" y2="333.7" stroke="#000" stroke-width="1.1"/>
<line x1="271.2" y1="300.43" x2="273.6" y2="300.43" stroke="#000" stroke-width="1.1"/>
<line x1="271.2" y1="267.15" x2="273.6" y2="267.15" stroke="#000" stroke-width="1.1"/>
<line x1="271.2" y1="233.88" x2="273.6" y2="233.88" stroke="#000" stroke-width="1.1"/>
<line x1="271.2" y1="200.6" x2="273.6" y2="200.6" stroke="#000" stroke-width="1.1"/>
<line x1="271.2" y1="317.06" x2="272.6" y2="317.06" stroke="#000" stroke-width="1.1"/>
<line x1="271.2" y1="283.79" x2="272.6" y2="283.79" stroke="#000" stroke-width="1.1"/>
<line x1="271.2" y1="250.51" x2="272.6" y2="250.51" stroke="#000" stroke-width="1.1"/>
<line x1="271.2" y1="217.24" x2="272.6" y2="217.24" stroke="#000" stroke-width="1.1"/>
<text x="267.6" y="336.1" font-size="6.9" text-anchor="end" font-weight="bold">0</text>
<text x="267.6" y="302.82" font-size="6.9" text-anchor="end" font-weight="bold">5</text>
<text x="267.6" y="269.55" font-size="6.9" text-anchor="end" font-weight="bold">10</text>
<text x="267.6" y="236.28" font-size="6.9" text-anchor="end" font-weight="bold">15</text>
<text x="267.6" y="203" font-size="6.9" text-anchor="end" font-weight="bold">20</text>
<line x1="286.7" y1="347.2" x2="286.7" y2="344.8" stroke="#000" stroke-width="1.1"/>
<line x1="317.88" y1="347.2" x2="317.88" y2="344.8" stroke="#000" stroke-width="1.1"/>
<line x1="349.06" y1="347.2" x2="349.06" y2="344.8" stroke="#000" stroke-width="1.1"/>
<line x1="380.24" y1="347.2" x2="380.24" y2="344.8" stroke="#000" stroke-width="1.1"/>
<line x1="411.42" y1="347.2" x2="411.42" y2="344.8" stroke="#000" stroke-width="1.1"/>
<line x1="442.6" y1="347.2" x2="442.6" y2="344.8" stroke="#000" stroke-width="1.1"/>
<line x1="302.29" y1="347.2" x2="302.29" y2="345.8" stroke="#000" stroke-width="1.1"/>
<line x1="333.47" y1="347.2" x2="333.47" y2="345.8" stroke="#000" stroke-width="1.1"/>
<line x1="364.65" y1="347.2" x2="364.65" y2="345.8" stroke="#000" stroke-width="1.1"/>
<line x1="395.83" y1="347.2" x2="395.83" y2="345.8" stroke="#000" stroke-width="1.1"/>
<line x1="427.01" y1="347.2" x2="427.01" y2="345.8" stroke="#000" stroke-width="1.1"/>
<text x="286.7" y="356.2" font-size="6.9" text-anchor="middle" font-weight="bold">0</text>
<text x="317.88" y="356.2" font-size="6.9" text-anchor="middle" font-weight="bold">20</text>
<text x="349.06" y="356.2" font-size="6.9" text-anchor="middle" font-weight="bold">40</text>
<text x="380.24" y="356.2" font-size="6.9" text-anchor="middle" font-weight="bold">60</text>
<text x="411.42" y="356.2" font-size="6.9" text-anchor="middle" font-weight="bold">80</text>
<text x="442.6" y="356.2" font-size="6.9" text-anchor="middle" font-weight="bold">100</text>
<text x="329.24" y="366.9" font-size="9.06" text-anchor="start" font-weight="bold">Scan rate (mV/s)</text>
<text x="0" y="0" font-size="9.57" text-anchor="middle" font-weight="bold" transform="translate(257.5,273.95) rotate(-90)">Specific capacitance (F/cm<tspan font-size="6.7" dy="-4.2">2</tspan><tspan dy="4.2">)</tspan></text>
<line x1="395.8" y1="206.9" x2="410.6" y2="206.9" stroke="#000" stroke-width="1.4"/>
<rect x="401.5" y="205.2" width="3.4" height="3.4" fill="#000"/>
<text x="414.4" y="209.5" font-size="7.1" text-anchor="start" font-weight="bold">No Fe</text>
<line x1="395.8" y1="216.5" x2="410.6" y2="216.5" stroke="#3c9bf5" stroke-width="1.4"/>
<circle cx="403.2" cy="216.5" r="1.78" fill="#3c9bf5"/>
<text x="412.9" y="219.1" font-size="7.1" text-anchor="start" font-weight="bold">Fe(BPDC)-1</text>
<line x1="395.8" y1="226.2" x2="410.6" y2="226.2" stroke="#3cc83c" stroke-width="1.4"/>
<path d="M403.2,224.07 L405.32,227.73 L401.07,227.73 Z" fill="#3cc83c"/>
<text x="412.9" y="228.8" font-size="7.1" text-anchor="start" font-weight="bold">Fe-(BPDC)-2</text>
<line x1="395.8" y1="235.9" x2="410.6" y2="235.9" stroke="#f0325a" stroke-width="1.4"/>
<path d="M403.2,238.03 L405.32,234.37 L401.07,234.37 Z" fill="#f0325a"/>
<text x="412.9" y="238.5" font-size="7.1" text-anchor="start" font-weight="bold">Fe-(BPDC)-3</text>
<line x1="395.8" y1="245.4" x2="410.6" y2="245.4" stroke="#f0aa32" stroke-width="1.4"/>
<path d="M403.2,243.19 L405.07,245.4 L403.2,247.61 L401.33,245.4 Z" fill="#f0aa32"/>
<text x="412.9" y="248" font-size="7.1" text-anchor="start" font-weight="bold">Fe-(BPDC)-4</text>
<text x="0" y="0" font-size="14" font-weight="bold" transform="translate(11.81,378.62) scale(1.01,1)">(e)</text>
<clipPath id="ec"><rect x="43.2" y="378.7" width="186.8" height="146.6"/></clipPath>
<g clip-path="url(#ec)">
<path d="M52.3,525.5 L54.2,520.5 L56.7,515.6 L59.6,509 L61.8,504.7 L72,482.7 L84.4,465.3 L103.1,441.4 L135.8,410.9" fill="none" stroke="#000" stroke-width="1.2" stroke-linejoin="round" stroke-linecap="round"/>
<path d="M53,525.5 L55.5,520.5 L58.5,513.8 L62.3,505.5 L66.2,496.5 L72.8,484.2 L79.3,471.1 L90.2,452.4 L106.7,427.6 L132.2,395.4 L148.5,378.9" fill="none" stroke="#f0aa32" stroke-width="1.2" stroke-linejoin="round" stroke-linecap="round"/>
<path d="M51,525.5 L54,518.5 L57.2,511.3 L61.1,503 L66.2,493.6 L71.3,484.9 L77.9,471.1 L84.4,451.5 L91.9,424 L102.5,382.7 L103.6,378.9" fill="none" stroke="#3c9bf5" stroke-width="1.2" stroke-linejoin="round" stroke-linecap="round"/>
<path d="M50,525.5 L53,517.5 L56.2,510.2 L60,502.2 L64,493.8 L66.2,489.3 L72.8,472.5 L80.3,453.3 L90.8,425.5 L107.4,387 L110.5,378.9" fill="none" stroke="#3cc83c" stroke-width="1.2" stroke-linejoin="round" stroke-linecap="round"/>
<path d="M48,525.5 L51,518 L53.8,511.3 L56,505.5 L58.2,499.6 L61.8,490.9 L67.4,479.1 L73.5,461.6 L77.1,450 L81.7,436.3 L93,400.7 L100.8,378.9" fill="none" stroke="#f0325a" stroke-width="1.2" stroke-linejoin="round" stroke-linecap="round"/>
<path d="M54,526 L56,522.56 L52,522.56 Z" fill="#f0aa32"/>
<path d="M55.5,522.5 L57.5,519.06 L53.5,519.06 Z" fill="#f0aa32"/>
<path d="M57,519 L59,515.56 L55,515.56 Z" fill="#f0aa32"/>
<path d="M58.5,515.8 L60.5,512.36 L56.5,512.36 Z" fill="#f0aa32"/>
<path d="M60.3,512 L62.3,508.56 L58.3,508.56 Z" fill="#f0aa32"/>
<path d="M62.3,507.5 L64.3,504.06 L60.3,504.06 Z" fill="#f0aa32"/>
<path d="M64.5,503 L66.5,499.56 L62.5,499.56 Z" fill="#f0aa32"/>
<path d="M66.2,498.5 L68.2,495.06 L64.2,495.06 Z" fill="#f0aa32"/>
<path d="M72.4,487.68 L74.78,483.59 L70.03,483.59 Z" fill="#f0aa32"/>
<path d="M90.2,454.98 L92.58,450.89 L87.83,450.89 Z" fill="#f0aa32"/>
<path d="M106.7,429.98 L109.08,425.89 L104.33,425.89 Z" fill="#f0aa32"/>
<path d="M132.2,397.77 L134.57,393.69 L129.82,393.69 Z" fill="#f0aa32"/>
<rect x="51" y="521" width="3" height="3" fill="#3c9bf5"/>
<rect x="52.5" y="517" width="3" height="3" fill="#3c9bf5"/>
<rect x="54" y="513.5" width="3" height="3" fill="#3c9bf5"/>
<rect x="55.7" y="509.8" width="3" height="3" fill="#3c9bf5"/>
<rect x="57.5" y="506" width="3" height="3" fill="#3c9bf5"/>
<rect x="59.6" y="501.5" width="3" height="3" fill="#3c9bf5"/>
<rect x="62" y="497" width="3" height="3" fill="#3c9bf5"/>
<rect x="64.7" y="492.1" width="3" height="3" fill="#3c9bf5"/>
<rect x="69.55" y="483.15" width="3.5" height="3.5" fill="#3c9bf5"/>
<rect x="82.35" y="449.35" width="3.5" height="3.5" fill="#3c9bf5"/>
<rect x="90.15" y="422.25" width="3.5" height="3.5" fill="#3c9bf5"/>
<rect x="100.75" y="380.95" width="3.5" height="3.5" fill="#3c9bf5"/>
<path d="M51.5,519.5 L53.5,522.94 L49.5,522.94 Z" fill="#3cc83c"/>
<path d="M53,515.5 L55,518.94 L51,518.94 Z" fill="#3cc83c"/>
<path d="M54.5,512 L56.5,515.44 L52.5,515.44 Z" fill="#3cc83c"/>
<path d="M56.2,508.2 L58.2,511.64 L54.2,511.64 Z" fill="#3cc83c"/>
<path d="M58,504.5 L60,507.94 L56,507.94 Z" fill="#3cc83c"/>
<path d="M60,500.2 L62,503.64 L58,503.64 Z" fill="#3cc83c"/>
<path d="M62.3,495.5 L64.3,498.94 L60.3,498.94 Z" fill="#3cc83c"/>
<path d="M64.5,491.5 L66.5,494.94 L62.5,494.94 Z" fill="#3cc83c"/>
<path d="M66.2,487.3 L68.2,490.74 L64.2,490.74 Z" fill="#3cc83c"/>
<path d="M72.8,470.12 L75.17,474.21 L70.42,474.21 Z" fill="#3cc83c"/>
<path d="M80.3,450.93 L82.67,455.01 L77.92,455.01 Z" fill="#3cc83c"/>
<path d="M90.8,423.12 L93.17,427.21 L88.42,427.21 Z" fill="#3cc83c"/>
<path d="M107.4,384.62 L109.78,388.71 L105.03,388.71 Z" fill="#3cc83c"/>
<circle cx="52.5" cy="524.5" r="1.68" fill="#000"/>
<circle cx="53.3" cy="522.5" r="1.68" fill="#000"/>
<circle cx="54.2" cy="520.5" r="1.68" fill="#000"/>
<circle cx="55" cy="518.5" r="1.68" fill="#000"/>
<circle cx="56" cy="516.5" r="1.68" fill="#000"/>
<circle cx="57" cy="514.2" r="1.68" fill="#000"/>
<circle cx="58.2" cy="511.8" r="1.68" fill="#000"/>
<circle cx="59.6" cy="509" r="1.68" fill="#000"/>
<circle cx="61.2" cy="505.8" r="1.68" fill="#000"/>
<circle cx="84.5" cy="465.8" r="1.84" fill="#000"/>
<circle cx="103.1" cy="441.4" r="1.84" fill="#000"/>
<circle cx="135.8" cy="410.9" r="1.84" fill="#000"/>
<path d="M48.3,522.16 L50.28,524.5 L48.3,526.84 L46.32,524.5 Z" fill="#f0325a"/>
<path d="M49.2,519.66 L51.18,522 L49.2,524.34 L47.22,522 Z" fill="#f0325a"/>
<path d="M50.1,517.16 L52.08,519.5 L50.1,521.84 L48.12,519.5 Z" fill="#f0325a"/>
<path d="M51,514.86 L52.98,517.2 L51,519.54 L49.02,517.2 Z" fill="#f0325a"/>
<path d="M52,512.46 L53.98,514.8 L52,517.14 L50.02,514.8 Z" fill="#f0325a"/>
<path d="M53,510.26 L54.98,512.6 L53,514.94 L51.02,512.6 Z" fill="#f0325a"/>
<path d="M54,508.16 L55.98,510.5 L54,512.84 L52.02,510.5 Z" fill="#f0325a"/>
<path d="M55.2,505.66 L57.18,508 L55.2,510.34 L53.22,508 Z" fill="#f0325a"/>
<path d="M56.5,502.66 L58.48,505 L56.5,507.34 L54.52,505 Z" fill="#f0325a"/>
<path d="M58,498.66 L59.98,501 L58,503.34 L56.02,501 Z" fill="#f0325a"/>
<path d="M60,493.66 L61.98,496 L60,498.34 L58.02,496 Z" fill="#f0325a"/>
<path d="M61.8,488.66 L63.78,491 L61.8,493.34 L59.82,491 Z" fill="#f0325a"/>
<path d="M63.5,484.66 L65.48,487 L63.5,489.34 L61.52,487 Z" fill="#f0325a"/>
<path d="M67.4,476.5 L69.6,479.1 L67.4,481.7 L65.2,479.1 Z" fill="#f0325a"/>
<path d="M73.5,458.9 L75.7,461.5 L73.5,464.1 L71.3,461.5 Z" fill="#f0325a"/>
<path d="M81.7,433.7 L83.9,436.3 L81.7,438.9 L79.5,436.3 Z" fill="#f0325a"/>
<path d="M93,398.1 L95.2,400.7 L93,403.3 L90.8,400.7 Z" fill="#f0325a"/>
</g>
<rect x="43.2" y="378.7" width="186.8" height="146.6" fill="none" stroke="#000" stroke-width="1.2"/>
<line x1="43.2" y1="525.3" x2="45.6" y2="525.3" stroke="#000" stroke-width="1.1"/>
<line x1="43.2" y1="495.98" x2="45.6" y2="495.98" stroke="#000" stroke-width="1.1"/>
<line x1="43.2" y1="466.66" x2="45.6" y2="466.66" stroke="#000" stroke-width="1.1"/>
<line x1="43.2" y1="437.34" x2="45.6" y2="437.34" stroke="#000" stroke-width="1.1"/>
<line x1="43.2" y1="408.02" x2="45.6" y2="408.02" stroke="#000" stroke-width="1.1"/>
<line x1="43.2" y1="378.7" x2="45.6" y2="378.7" stroke="#000" stroke-width="1.1"/>
<line x1="43.2" y1="510.64" x2="44.6" y2="510.64" stroke="#000" stroke-width="1.1"/>
<line x1="43.2" y1="481.32" x2="44.6" y2="481.32" stroke="#000" stroke-width="1.1"/>
<line x1="43.2" y1="452" x2="44.6" y2="452" stroke="#000" stroke-width="1.1"/>
<line x1="43.2" y1="422.68" x2="44.6" y2="422.68" stroke="#000" stroke-width="1.1"/>
<line x1="43.2" y1="393.36" x2="44.6" y2="393.36" stroke="#000" stroke-width="1.1"/>
<text x="40.2" y="527.8" font-size="7.3" text-anchor="end" font-weight="bold">0</text>
<text x="40.2" y="498.48" font-size="7.3" text-anchor="end" font-weight="bold">4</text>
<text x="40.2" y="469.16" font-size="7.3" text-anchor="end" font-weight="bold">8</text>
<text x="40.2" y="439.84" font-size="7.3" text-anchor="end" font-weight="bold">12</text>
<text x="40.2" y="410.52" font-size="7.3" text-anchor="end" font-weight="bold">16</text>
<text x="40.2" y="381.2" font-size="7.3" text-anchor="end" font-weight="bold">20</text>
<line x1="43.3" y1="525.3" x2="43.3" y2="522.9" stroke="#000" stroke-width="1.1"/>
<line x1="80.62" y1="525.3" x2="80.62" y2="522.9" stroke="#000" stroke-width="1.1"/>
<line x1="117.94" y1="525.3" x2="117.94" y2="522.9" stroke="#000" stroke-width="1.1"/>
<line x1="155.26" y1="525.3" x2="155.26" y2="522.9" stroke="#000" stroke-width="1.1"/>
<line x1="192.58" y1="525.3" x2="192.58" y2="522.9" stroke="#000" stroke-width="1.1"/>
<line x1="229.9" y1="525.3" x2="229.9" y2="522.9" stroke="#000" stroke-width="1.1"/>
<line x1="61.96" y1="525.3" x2="61.96" y2="523.9" stroke="#000" stroke-width="1.1"/>
<line x1="99.28" y1="525.3" x2="99.28" y2="523.9" stroke="#000" stroke-width="1.1"/>
<line x1="136.6" y1="525.3" x2="136.6" y2="523.9" stroke="#000" stroke-width="1.1"/>
<line x1="173.92" y1="525.3" x2="173.92" y2="523.9" stroke="#000" stroke-width="1.1"/>
<line x1="211.24" y1="525.3" x2="211.24" y2="523.9" stroke="#000" stroke-width="1.1"/>
<text x="43.3" y="534.4" font-size="7.3" text-anchor="middle" font-weight="bold">0</text>
<text x="80.62" y="534.4" font-size="7.3" text-anchor="middle" font-weight="bold">4</text>
<text x="117.94" y="534.4" font-size="7.3" text-anchor="middle" font-weight="bold">8</text>
<text x="155.26" y="534.4" font-size="7.3" text-anchor="middle" font-weight="bold">12</text>
<text x="192.58" y="534.4" font-size="7.3" text-anchor="middle" font-weight="bold">16</text>
<text x="229.9" y="534.4" font-size="7.3" text-anchor="middle" font-weight="bold">20</text>
<text x="118.93" y="544.7" font-size="9.16" text-anchor="start" font-weight="bold">Z' (ohm)</text>
<text x="0" y="0" font-size="9.19" text-anchor="middle" font-weight="bold" transform="translate(28.1,449.5) rotate(-90)">-Z'' (ohm)</text>
<line x1="166.5" y1="385.5" x2="179.8" y2="385.5" stroke="#000" stroke-width="1.4"/>
<circle cx="173.1" cy="385.5" r="1.89" fill="#000"/>
<text x="183.4" y="388.1" font-size="7.1" text-anchor="start" font-weight="bold">No Fe</text>
<line x1="166.5" y1="395.3" x2="179.8" y2="395.3" stroke="#3c9bf5" stroke-width="1.4"/>
<rect x="171.3" y="393.5" width="3.6" height="3.6" fill="#3c9bf5"/>
<text x="183.4" y="397.9" font-size="7.1" text-anchor="start" font-weight="bold">Fe(BPDC)-1</text>
<line x1="166.5" y1="404.9" x2="179.8" y2="404.9" stroke="#3cc83c" stroke-width="1.4"/>
<path d="M173.1,402.65 L175.35,406.52 L170.85,406.52 Z" fill="#3cc83c"/>
<text x="183.4" y="407.5" font-size="7.1" text-anchor="start" font-weight="bold">Fe(BPDC)-2</text>
<line x1="166.5" y1="414.5" x2="179.8" y2="414.5" stroke="#f0325a" stroke-width="1.4"/>
<path d="M173.1,412.16 L175.08,414.5 L173.1,416.84 L171.12,414.5 Z" fill="#f0325a"/>
<text x="183.4" y="417.1" font-size="7.1" text-anchor="start" font-weight="bold">Fe(BPDC)-3</text>
<line x1="166.5" y1="424.1" x2="179.8" y2="424.1" stroke="#f0aa32" stroke-width="1.4"/>
<path d="M173.1,426.35 L175.35,422.48 L170.85,422.48 Z" fill="#f0aa32"/>
<text x="183.4" y="426.7" font-size="7.1" text-anchor="start" font-weight="bold">Fe(BPDC)-4</text>
<rect x="156.3" y="463.8" width="68.3" height="52.3" fill="#fff"/>
<clipPath id="ic"><rect x="156.3" y="463.8" width="68.3" height="52.3"/></clipPath>
<g clip-path="url(#ic)">
<path d="M165.2,516.5 L201.6,463.5" fill="none" stroke="#f0325a" stroke-width="1.2" stroke-linejoin="round" stroke-linecap="round"/>
<path d="M166,516.5 L205.6,463.5" fill="none" stroke="#3cc83c" stroke-width="1.2" stroke-linejoin="round" stroke-linecap="round"/>
<path d="M167.8,516.5 L180,499 L204.1,463.5" fill="none" stroke="#3c9bf5" stroke-width="1.2" stroke-linejoin="round" stroke-linecap="round"/>
<path d="M177.2,516.5 C178,514.58 180.03,508.67 182,505 C183.97,501.33 185.67,499.17 189,494.5 C192.33,489.83 197.55,482.17 202,477 C206.45,471.83 213.42,465.75 215.7,463.5" fill="none" stroke="#f0aa32" stroke-width="1.2" stroke-linejoin="round" stroke-linecap="round"/>
<path d="M197.9,516.5 C198.45,516.17 198.8,515.95 201.2,514.5 C203.6,513.05 208.4,510.38 212.3,507.8 C216.2,505.22 222.55,500.47 224.6,499" fill="none" stroke="#000" stroke-width="1.2" stroke-linejoin="round" stroke-linecap="round"/>
</g>
<rect x="156.3" y="463.8" width="68.3" height="52.3" fill="none" stroke="#000" stroke-width="0.9"/>
<line x1="156.3" y1="505.64" x2="157.8" y2="505.64" stroke="#000" stroke-width="0.8"/>
<line x1="156.3" y1="495.18" x2="157.8" y2="495.18" stroke="#000" stroke-width="0.8"/>
<line x1="156.3" y1="484.72" x2="157.8" y2="484.72" stroke="#000" stroke-width="0.8"/>
<line x1="156.3" y1="474.26" x2="157.8" y2="474.26" stroke="#000" stroke-width="0.8"/>
<line x1="167.68" y1="516.1" x2="167.68" y2="514.6" stroke="#000" stroke-width="0.8"/>
<line x1="179.06" y1="516.1" x2="179.06" y2="514.6" stroke="#000" stroke-width="0.8"/>
<line x1="190.44" y1="516.1" x2="190.44" y2="514.6" stroke="#000" stroke-width="0.8"/>
<line x1="201.82" y1="516.1" x2="201.82" y2="514.6" stroke="#000" stroke-width="0.8"/>
<line x1="213.2" y1="516.1" x2="213.2" y2="514.6" stroke="#000" stroke-width="0.8"/>
<text x="155.2" y="518" font-size="5.3" text-anchor="end" font-weight="bold">0.0</text>
<text x="155.2" y="507.54" font-size="5.3" text-anchor="end" font-weight="bold">0.2</text>
<text x="155.2" y="497.08" font-size="5.3" text-anchor="end" font-weight="bold">0.4</text>
<text x="155.2" y="486.62" font-size="5.3" text-anchor="end" font-weight="bold">0.6</text>
<text x="155.2" y="476.16" font-size="5.3" text-anchor="end" font-weight="bold">0.8</text>
<text x="155.2" y="465.7" font-size="5.3" text-anchor="end" font-weight="bold">1.0</text>
<text x="156.3" y="521.9" font-size="5.3" text-anchor="middle" font-weight="bold">0.4</text>
<text x="179.06" y="521.9" font-size="5.3" text-anchor="middle" font-weight="bold">0.6</text>
<text x="201.82" y="521.9" font-size="5.3" text-anchor="middle" font-weight="bold">0.8</text>
<text x="224.58" y="521.9" font-size="5.3" text-anchor="middle" font-weight="bold">1.0</text>
<line x1="80.1" y1="499.2" x2="84.4" y2="499.2" stroke="#858585" stroke-width="0.95"/>
<rect x="84.4" y="495.3" width="13.3" height="8.1" fill="none" stroke="#858585" stroke-width="0.95"/>
<line x1="97.7" y1="499.2" x2="102.2" y2="499.2" stroke="#858585" stroke-width="0.95"/>
<line x1="102.2" y1="486.5" x2="102.2" y2="511.9" stroke="#858585" stroke-width="0.95"/>
<line x1="102.2" y1="486.5" x2="144.6" y2="486.5" stroke="#858585" stroke-width="0.95"/>
<line x1="144.6" y1="486.5" x2="144.6" y2="511.9" stroke="#858585" stroke-width="0.95"/>
<line x1="102.2" y1="511.9" x2="107.2" y2="511.9" stroke="#858585" stroke-width="0.95"/>
<rect x="107.2" y="507.4" width="13.3" height="8.7" fill="none" stroke="#858585" stroke-width="0.95"/>
<line x1="120.5" y1="511.9" x2="126.8" y2="511.9" stroke="#858585" stroke-width="0.95"/>
<rect x="126.8" y="507.4" width="13.5" height="8.7" fill="none" stroke="#858585" stroke-width="0.95"/>
<line x1="140.3" y1="511.9" x2="144.6" y2="511.9" stroke="#858585" stroke-width="0.95"/>
<rect x="122.9" y="484.9" width="1.4" height="4" fill="#fff"/>
<line x1="122.9" y1="484.6" x2="122.9" y2="488.4" stroke="#858585" stroke-width="0.95"/>
<line x1="124.2" y1="484.6" x2="124.2" y2="488.4" stroke="#858585" stroke-width="0.95"/>
<text x="123.8" y="483.4" font-size="5.2" text-anchor="middle" font-weight="bold" style="fill:#333;stroke:#333;stroke-width:0.1px">C</text>
<text x="89.3" y="501.6" font-size="5.2" font-weight="bold" style="fill:#333;stroke:#333;stroke-width:0.1px">R<tspan font-size="3.4" dy="1">s</tspan></text>
<text x="112.1" y="513.6" font-size="5.2" font-weight="bold" style="fill:#333;stroke:#333;stroke-width:0.1px">R<tspan font-size="3.4" dy="1">t</tspan></text>
<text x="131.2" y="513.6" font-size="5.2" font-weight="bold" style="fill:#333;stroke:#333;stroke-width:0.1px">Z<tspan font-size="3.4" dy="1">w</tspan></text>
<text x="0" y="0" font-size="14" font-weight="bold" transform="translate(236.49,374.87) scale(1.06,1)">(f)</text>
<path d="M272.6,480.2 L273.4,441 L274.3,452.7 L276.2,456.5 L280.4,466.5 L284,477.1 L287.6,480.3 L291.4,483 L310.1,484.4 L327.6,484.6 L346.1,486.6 L364.5,487.4 L410.6,488.8 L456.8,490.3" fill="none" stroke="#3c9bf5" stroke-width="1.2" stroke-linejoin="round" stroke-linecap="round"/>
<rect x="270.9" y="478.5" width="3.4" height="3.4" fill="#3c9bf5"/>
<rect x="271.7" y="439.3" width="3.4" height="3.4" fill="#3c9bf5"/>
<rect x="272.6" y="451" width="3.4" height="3.4" fill="#3c9bf5"/>
<rect x="274.5" y="454.8" width="3.4" height="3.4" fill="#3c9bf5"/>
<rect x="278.7" y="464.8" width="3.4" height="3.4" fill="#3c9bf5"/>
<rect x="282.3" y="475.4" width="3.4" height="3.4" fill="#3c9bf5"/>
<rect x="285.9" y="478.6" width="3.4" height="3.4" fill="#3c9bf5"/>
<rect x="289.7" y="481.3" width="3.4" height="3.4" fill="#3c9bf5"/>
<rect x="308.4" y="482.7" width="3.4" height="3.4" fill="#3c9bf5"/>
<rect x="325.9" y="482.9" width="3.4" height="3.4" fill="#3c9bf5"/>
<rect x="344.4" y="484.9" width="3.4" height="3.4" fill="#3c9bf5"/>
<rect x="362.8" y="485.7" width="3.4" height="3.4" fill="#3c9bf5"/>
<rect x="408.9" y="487.1" width="3.4" height="3.4" fill="#3c9bf5"/>
<rect x="455.1" y="488.6" width="3.4" height="3.4" fill="#3c9bf5"/>
<path d="M272.6,471.2 L273.4,438 L274.5,443 L276.6,449.5 L280.4,459.5 L284,470.7 L287.2,473.9 L291.4,476.4 L310.1,477.5 L327.6,477.9 L346.1,480.1 L364.5,480.5 L410.6,482.3 L456.8,483.7" fill="none" stroke="#3cc83c" stroke-width="1.2" stroke-linejoin="round" stroke-linecap="round"/>
<circle cx="272.6" cy="471.2" r="1.78" fill="#3cc83c"/>
<circle cx="273.4" cy="438" r="1.78" fill="#3cc83c"/>
<circle cx="274.5" cy="443" r="1.78" fill="#3cc83c"/>
<circle cx="276.6" cy="449.5" r="1.78" fill="#3cc83c"/>
<circle cx="280.4" cy="459.5" r="1.78" fill="#3cc83c"/>
<circle cx="284" cy="470.7" r="1.78" fill="#3cc83c"/>
<circle cx="287.2" cy="473.9" r="1.78" fill="#3cc83c"/>
<circle cx="291.4" cy="476.4" r="1.78" fill="#3cc83c"/>
<circle cx="310.1" cy="477.5" r="1.78" fill="#3cc83c"/>
<circle cx="327.6" cy="477.9" r="1.78" fill="#3cc83c"/>
<circle cx="346.1" cy="480.1" r="1.78" fill="#3cc83c"/>
<circle cx="364.5" cy="480.5" r="1.78" fill="#3cc83c"/>
<circle cx="410.6" cy="482.3" r="1.78" fill="#3cc83c"/>
<circle cx="456.8" cy="483.7" r="1.78" fill="#3cc83c"/>
<path d="M272.6,458.1 L273.4,419.3 L274.6,424.5 L276.9,431.1 L280.3,441.3 L284.1,451.5 L287.8,454.7 L291.4,457.9 L309.6,458.4 L327.6,458.2 L346.1,461.9 L364.5,461.9 L410.6,463 L456.8,464.4" fill="none" stroke="#f0aa32" stroke-width="1.2" stroke-linejoin="round" stroke-linecap="round"/>
<path d="M272.6,460.23 L274.73,456.57 L270.48,456.57 Z" fill="#f0aa32"/>
<path d="M273.4,421.43 L275.52,417.77 L271.27,417.77 Z" fill="#f0aa32"/>
<path d="M274.6,426.62 L276.73,422.97 L272.48,422.97 Z" fill="#f0aa32"/>
<path d="M276.9,433.23 L279.02,429.57 L274.77,429.57 Z" fill="#f0aa32"/>
<path d="M280.3,443.43 L282.43,439.77 L278.18,439.77 Z" fill="#f0aa32"/>
<path d="M284.1,453.62 L286.23,449.97 L281.98,449.97 Z" fill="#f0aa32"/>
<path d="M287.8,456.82 L289.93,453.17 L285.68,453.17 Z" fill="#f0aa32"/>
<path d="M291.4,460.02 L293.52,456.37 L289.27,456.37 Z" fill="#f0aa32"/>
<path d="M309.6,460.52 L311.73,456.87 L307.48,456.87 Z" fill="#f0aa32"/>
<path d="M327.6,460.32 L329.73,456.67 L325.48,456.67 Z" fill="#f0aa32"/>
<path d="M346.1,464.02 L348.23,460.37 L343.98,460.37 Z" fill="#f0aa32"/>
<path d="M364.5,464.02 L366.62,460.37 L362.38,460.37 Z" fill="#f0aa32"/>
<path d="M410.6,465.12 L412.73,461.47 L408.48,461.47 Z" fill="#f0aa32"/>
<path d="M456.8,466.52 L458.93,462.87 L454.68,462.87 Z" fill="#f0aa32"/>
<path d="M272.6,465.5 L273.4,404.1 L274.1,408.8 L276.2,415.7 L280.3,426.1 L283.7,437 L287.8,439.7 L291.2,442.4 L309.6,443.4 L327.6,444.4 L346.1,445.1 L364.5,446.6 L410.6,448 L456.8,450.2" fill="none" stroke="#f0325a" stroke-width="1.2" stroke-linejoin="round" stroke-linecap="round"/>
<path d="M272.6,463.38 L274.73,467.03 L270.48,467.03 Z" fill="#f0325a"/>
<path d="M273.4,401.98 L275.52,405.63 L271.27,405.63 Z" fill="#f0325a"/>
<path d="M274.1,406.68 L276.23,410.33 L271.98,410.33 Z" fill="#f0325a"/>
<path d="M276.2,413.57 L278.32,417.23 L274.07,417.23 Z" fill="#f0325a"/>
<path d="M280.3,423.98 L282.43,427.63 L278.18,427.63 Z" fill="#f0325a"/>
<path d="M283.7,434.88 L285.82,438.53 L281.57,438.53 Z" fill="#f0325a"/>
<path d="M287.8,437.57 L289.93,441.23 L285.68,441.23 Z" fill="#f0325a"/>
<path d="M291.2,440.27 L293.32,443.93 L289.07,443.93 Z" fill="#f0325a"/>
<path d="M309.6,441.27 L311.73,444.93 L307.48,444.93 Z" fill="#f0325a"/>
<path d="M327.6,442.27 L329.73,445.93 L325.48,445.93 Z" fill="#f0325a"/>
<path d="M346.1,442.98 L348.23,446.63 L343.98,446.63 Z" fill="#f0325a"/>
<path d="M364.5,444.48 L366.62,448.13 L362.38,448.13 Z" fill="#f0325a"/>
<path d="M410.6,445.88 L412.73,449.53 L408.48,449.53 Z" fill="#f0325a"/>
<path d="M456.8,448.07 L458.93,451.73 L454.68,451.73 Z" fill="#f0325a"/>
<rect x="271.4" y="377.9" width="185.9" height="146.8" fill="none" stroke="#000" stroke-width="1.2"/>
<line x1="271.4" y1="524.3" x2="273.8" y2="524.3" stroke="#000" stroke-width="1.1"/>
<line x1="271.4" y1="487.7" x2="273.8" y2="487.7" stroke="#000" stroke-width="1.1"/>
<line x1="271.4" y1="451.1" x2="273.8" y2="451.1" stroke="#000" stroke-width="1.1"/>
<line x1="271.4" y1="414.5" x2="273.8" y2="414.5" stroke="#000" stroke-width="1.1"/>
<line x1="271.4" y1="377.9" x2="273.8" y2="377.9" stroke="#000" stroke-width="1.1"/>
<line x1="271.4" y1="506" x2="272.8" y2="506" stroke="#000" stroke-width="1.1"/>
<line x1="271.4" y1="469.4" x2="272.8" y2="469.4" stroke="#000" stroke-width="1.1"/>
<line x1="271.4" y1="432.8" x2="272.8" y2="432.8" stroke="#000" stroke-width="1.1"/>
<line x1="271.4" y1="396.2" x2="272.8" y2="396.2" stroke="#000" stroke-width="1.1"/>
<text x="267.9" y="527" font-size="7.5" text-anchor="end" font-weight="bold">0.0</text>
<text x="267.9" y="490.4" font-size="7.5" text-anchor="end" font-weight="bold">0.5</text>
<text x="267.9" y="453.8" font-size="7.5" text-anchor="end" font-weight="bold">1.0</text>
<text x="267.9" y="417.2" font-size="7.5" text-anchor="end" font-weight="bold">1.5</text>
<text x="267.9" y="380.6" font-size="7.5" text-anchor="end" font-weight="bold">2.0</text>
<line x1="272.3" y1="524.7" x2="272.3" y2="522.3" stroke="#000" stroke-width="1.1"/>
<line x1="309.21" y1="524.7" x2="309.21" y2="522.3" stroke="#000" stroke-width="1.1"/>
<line x1="346.12" y1="524.7" x2="346.12" y2="522.3" stroke="#000" stroke-width="1.1"/>
<line x1="383.03" y1="524.7" x2="383.03" y2="522.3" stroke="#000" stroke-width="1.1"/>
<line x1="419.94" y1="524.7" x2="419.94" y2="522.3" stroke="#000" stroke-width="1.1"/>
<line x1="456.85" y1="524.7" x2="456.85" y2="522.3" stroke="#000" stroke-width="1.1"/>
<line x1="290.75" y1="524.7" x2="290.75" y2="523.3" stroke="#000" stroke-width="1.1"/>
<line x1="327.67" y1="524.7" x2="327.67" y2="523.3" stroke="#000" stroke-width="1.1"/>
<line x1="364.57" y1="524.7" x2="364.57" y2="523.3" stroke="#000" stroke-width="1.1"/>
<line x1="401.49" y1="524.7" x2="401.49" y2="523.3" stroke="#000" stroke-width="1.1"/>
<line x1="438.39" y1="524.7" x2="438.39" y2="523.3" stroke="#000" stroke-width="1.1"/>
<text x="272.3" y="534.2" font-size="7.75" text-anchor="middle" font-weight="bold">0</text>
<text x="309.21" y="534.2" font-size="7.75" text-anchor="middle" font-weight="bold">2,000</text>
<text x="346.12" y="534.2" font-size="7.75" text-anchor="middle" font-weight="bold">4,000</text>
<text x="383.03" y="534.2" font-size="7.75" text-anchor="middle" font-weight="bold">6,000</text>
<text x="419.94" y="534.2" font-size="7.75" text-anchor="middle" font-weight="bold">8,000</text>
<text x="456.85" y="534.2" font-size="7.75" text-anchor="middle" font-weight="bold">10,000</text>
<text x="334.63" y="545.6" font-size="8.97" text-anchor="start" font-weight="bold">Cycle number</text>
<text x="0" y="0" font-size="9.56" text-anchor="middle" font-weight="bold" transform="translate(253.8,451.4) rotate(-90)">Specific capacitance (F/cm<tspan font-size="6.7" dy="-4.2">2</tspan><tspan dy="4.2">)</tspan></text>
<line x1="397.7" y1="383.5" x2="412.7" y2="383.5" stroke="#3c9bf5" stroke-width="1.4"/>
<rect x="403.4" y="381.7" width="3.6" height="3.6" fill="#3c9bf5"/>
<text x="415.7" y="386.1" font-size="7.1" text-anchor="start" font-weight="bold">Fe(BPDC)-1</text>
<line x1="397.7" y1="393.4" x2="412.7" y2="393.4" stroke="#3cc83c" stroke-width="1.4"/>
<circle cx="405.2" cy="393.4" r="1.89" fill="#3cc83c"/>
<text x="415.7" y="396" font-size="7.1" text-anchor="start" font-weight="bold">Fe(BPDC)-2</text>
<line x1="397.7" y1="403.2" x2="412.7" y2="403.2" stroke="#f0325a" stroke-width="1.4"/>
<path d="M405.2,400.95 L407.45,404.82 L402.95,404.82 Z" fill="#f0325a"/>
<text x="415.7" y="405.8" font-size="7.1" text-anchor="start" font-weight="bold">Fe(BPDC)-3</text>
<line x1="397.7" y1="413" x2="412.7" y2="413" stroke="#f0aa32" stroke-width="1.4"/>
<path d="M405.2,415.25 L407.45,411.38 L402.95,411.38 Z" fill="#f0aa32"/>
<text x="415.7" y="415.6" font-size="7.1" text-anchor="start" font-weight="bold">Fe(BPDC)-4</text>
<text x="437.7" y="445.9" font-size="7.1" text-anchor="start" font-weight="bold">129%</text>
</svg></body></html>
